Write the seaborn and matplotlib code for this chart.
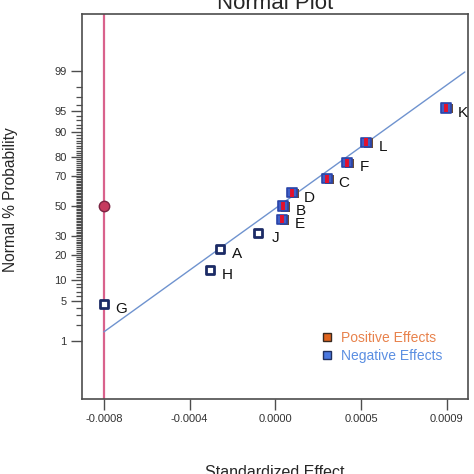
from statistics import NormalDist
import numpy as np
import pandas as pd
import seaborn as sns
import matplotlib
matplotlib.use("Agg")
from matplotlib import pyplot as plt
from matplotlib.lines import Line2D
import matplotlib.patheffects as pe

# effects
labels = ["G", "H", "A", "J", "E", "B", "D", "C", "F", "L", "K"]
effects = [-0.00082, -0.000288, -0.000238, -0.000048, 0.000073, 0.000078,
           0.000123, 0.000298, 0.000399, 0.000494, 0.000895]
probs = [4.5, 13.6, 22.7, 31.8, 40.9, 50.0, 59.1, 68.2, 77.3, 86.4, 95.5]
signs = ["neg", "neg", "neg", "neg", "pos", "pos", "pos", "pos", "pos", "pos", "pos"]

# fitted line and the red reference marker
line_x = [-0.00082, 0.00099]
line_p = [1.5, 98.96]
ref_x = -0.00082
ref_p = 50.0

xticks = [-0.00082, -0.00039, 0.00004, 0.00047, 0.0009]
xticklabels = ["-0.0008", "-0.0004", "0.0000", "0.0005", "0.0009"]
yticks = [1, 5, 10, 20, 30, 50, 70, 80, 90, 95, 99]
yminor = [p for p in range(2, 99) if p not in yticks]

df = pd.DataFrame({"label": labels, "effect": effects, "prob": probs, "sign": signs})

sns.set_style("ticks")
plt.rcParams['font.family'] = ['Liberation Sans', 'DejaVu Sans']

nd = NormalDist()
_ppf = np.vectorize(nd.inv_cdf, otypes=[float])
_cdf = np.vectorize(nd.cdf, otypes=[float])
def fwd(p):
    p = np.clip(np.asarray(p, dtype=float) / 100.0, 1e-9, 1 - 1e-9)
    return _ppf(p)
def inv(z):
    return _cdf(np.asarray(z, dtype=float)) * 100.0

fig = plt.figure(figsize=(4.74, 4.74), dpi=100)
ax = fig.add_axes([0.173, 0.158, 0.814, 0.812])
ax.set_yscale('function', functions=(fwd, inv))

ax.axvline(ref_x, color="#d9628c", lw=1.6, zorder=1)
ax.plot(line_x, line_p, color="#6f93cf", lw=1.0, zorder=2)
ax.plot([ref_x], [ref_p], "o", ms=7.5, mfc="#c63a5e", mec="#7a2442", mew=1, zorder=3)

neg = df[df.sign == "neg"]
pos = df[df.sign == "pos"]
sns.scatterplot(data=neg, x="effect", y="prob", marker="s", s=40, color="white",
                edgecolor="#1c2b66", linewidth=2, ax=ax, zorder=4, legend=False)
sns.scatterplot(data=pos, x="effect", y="prob", marker="s", s=48, color="#3f5fc8",
                edgecolor="#2a44a8", linewidth=1.2, ax=ax, zorder=4, legend=False)
ax.collections[-1].set_path_effects([pe.SimplePatchShadow(offset=(1.8, -0.6), shadow_rgbFace="#6b4a34", alpha=1), pe.Normal()])
ax.scatter(pos.effect, pos.prob, marker="|", s=36, color="#e3102c", linewidths=2.8, zorder=5)

for _, r in df.iterrows():
    ax.annotate(r.label, (r.effect, r.prob), xytext=(12.5, -3.5), textcoords="offset points",
                ha="center", va="center", fontsize=11, color="#111111")

ax.set_xlim(-0.00093, 0.001005)
ax.set_ylim(0.0434, 99.953)
ax.set_xticks(xticks)
ax.set_xticklabels(xticklabels)
ax.set_yticks(yticks)
ax.set_yticklabels([str(t) for t in yticks])
ax.set_yticks(yminor, minor=True)
ax.tick_params(axis="both", which="major", length=8, width=1, color="#4d4d4d",
               labelsize=8, labelcolor="#333333", pad=3)
ax.tick_params(axis="y", which="minor", length=4, width=0.9, color="#4d4d4d")
ax.tick_params(axis="x", which="minor", length=0)
for s in ax.spines.values():
    s.set_color("#4d4d4d")
    s.set_linewidth(1.2)
ax.set_xlabel("")
ax.set_ylabel("")

handles = [Line2D([], [], ls="none", marker="s", ms=6, mfc="#e0641e", mec="#3a2a20", mew=1),
           Line2D([], [], ls="none", marker="s", ms=6, mfc="#4a78e0", mec="#203060", mew=1)]
ax.legend(handles, ["Positive Effects", "Negative Effects"], loc="lower left",
          bbox_to_anchor=(0.603, 0.077), frameon=False, fontsize=10,
          handlelength=0.8, handletextpad=0.6, labelspacing=0.25, borderpad=0,
          labelcolor=["#e8824c", "#5b8fe2"])

fig.text(0.58, 0.981, "Normal Plot", ha="center", va="baseline", fontsize=16)
fig.text(0.58, 0.019, "Standardized Effect", ha="center", va="top", fontsize=11.5)
fig.text(0.022, 0.578, "Normal % Probability", ha="center", va="center", rotation=90, fontsize=11.2)

fig.savefig("out.png", dpi=100)
